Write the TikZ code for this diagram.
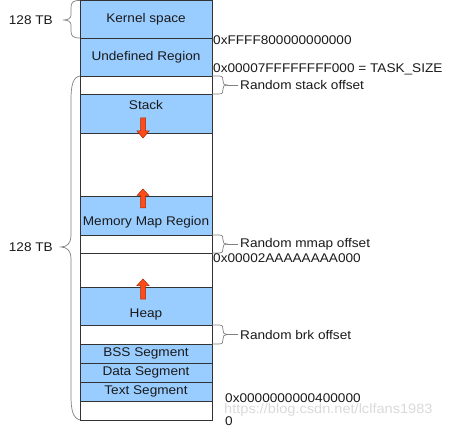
\documentclass[tikz,border=0pt]{standalone}
\usepackage{fontspec}
\setmainfont[FakeStretch=1.08]{Liberation Sans}
\definecolor{memblue}{HTML}{99CCFF}
\definecolor{linec}{HTML}{333333}
\definecolor{arrfill}{HTML}{FF4A1A}
\definecolor{arrline}{HTML}{A82800}
\definecolor{bracec}{HTML}{808080}
\definecolor{wmark}{HTML}{DADADA}
\definecolor{txt}{HTML}{1A1A1A}
\begin{document}
\begin{tikzpicture}[x=1bp,y=-1bp, font=\fontsize{12.6bp}{15bp}\selectfont,
 region/.style={draw=linec, line width=0.9bp, minimum width=132bp, inner sep=0pt, outer sep=0pt, anchor=north west, fill=white, text=txt},
 bluereg/.style={region, fill=memblue},
 lbl/.style={inner sep=0pt, text=txt},
 addr/.style={inner sep=0pt, anchor=west, text=txt},
 brace/.style={draw=bracec, line width=0.7bp},
 growarrow/.style={fill=arrfill, draw=arrline, line width=0.5bp, line join=miter}]
\useasboundingbox (0,0) rectangle (458,433);
\fill[white] (0,0) rectangle (458,433);
% memory regions
\node[bluereg, minimum height=37.5bp] (kernel) at (80,0.5) {Kernel space};
\node[bluereg, minimum height=38bp] (undef) at (kernel.south west) {Undefined Region};
\node[region, minimum height=18bp] (gap1) at (undef.south west) {};
\node[bluereg, minimum height=39bp] (stack) at (gap1.south west) {};
\node[region, minimum height=63bp] (free1) at (stack.south west) {};
\node[bluereg, minimum height=39bp] (mmap) at (free1.south west) {};
\node[region, minimum height=18bp] (gap2) at (mmap.south west) {};
\node[region, minimum height=34bp] (free2) at (gap2.south west) {};
\node[bluereg, minimum height=38bp] (heap) at (free2.south west) {};
\node[region, minimum height=19bp] (gap3) at (heap.south west) {};
\node[bluereg, minimum height=19bp] (bss) at (gap3.south west) {BSS Segment};
\node[bluereg, minimum height=19bp] (data) at (bss.south west) {Data Segment};
\node[bluereg, minimum height=19bp] (textseg) at (data.south west) {Text Segment};
\node[region, minimum height=19bp] (bottom) at (textseg.south west) {};
% region labels placed off-centre
\node[lbl] (stackT) at (146,105) {Stack};
\node[lbl] (mmapT) at (146,222) {Memory Map Region};
\node[lbl] (heapT) at (146,314) {Heap};
% growth arrows
\draw[growarrow] (140.5,118) -- (145.5,118) -- (145.5,131) -- (149,131) -- (143,138) -- (137,131) -- (140.5,131) -- cycle;
\draw[growarrow] (143,189) -- (149,195.5) -- (145.5,195.5) -- (145.5,208) -- (140.5,208) -- (140.5,195.5) -- (137,195.5) -- cycle;
\draw[growarrow] (143,279) -- (149,285.5) -- (145.5,285.5) -- (145.5,299) -- (140.5,299) -- (140.5,285.5) -- (137,285.5) -- cycle;
% left braces
\draw[brace] (kernel.north west) .. controls (73,0.5) and (71,2) .. (71,8) -- (71,15) .. controls (71,18.5) and (68,20) .. (63,20)
  .. controls (68,20) and (71,21.5) .. (71,25) -- (71,31) .. controls (71,36) and (73,38) .. (kernel.south west);
\node[lbl, anchor=east] (tb1) at (53,20) {128 TB};
\draw[brace] (gap1.north west) .. controls (73,77) and (71,85) .. (71,100) -- (71,236) .. controls (71,243) and (67,247) .. (61,247)
  .. controls (67,247) and (71,251) .. (71,258) -- (71,395) .. controls (71,411) and (73,418) .. (bottom.south west);
\node[lbl, anchor=east] (tb2) at (53,247) {128 TB};
% right braces
\draw[brace] (gap1.north east) -- (219,76) .. controls (223,76) and (223,78) .. (223,81) .. controls (223,84) and (224,85) .. (227,85)
  .. controls (224,85) and (223,86) .. (223,89) .. controls (223,92) and (223,94) .. (219,94) -- (gap1.south east);
\node[addr] (stackoff) at (240,85) {Random stack offset};
\draw[brace] (227,85) -- ([xshift=-2bp]stackoff.west);
\draw[brace] (gap2.north east) -- (219,235) .. controls (223,235) and (223,237) .. (223,240) .. controls (223,243) and (224,244) .. (227,244)
  .. controls (224,244) and (223,245) .. (223,248) .. controls (223,251) and (223,253) .. (219,253) -- (gap2.south east);
\node[addr] (mmapoff) at (240,244) {Random mmap offset};
\draw[brace] (227,244) -- ([xshift=-2bp]mmapoff.west);
\draw[brace] (gap3.north east) -- (219,325) .. controls (223,325) and (223,327) .. (223,330) .. controls (223,333) and (224,334.5) .. (227,334.5)
  .. controls (224,334.5) and (223,336) .. (223,339) .. controls (223,342) and (223,344) .. (219,344) -- (gap3.south east);
\node[addr] (brkoff) at (240,334.5) {Random brk offset};
\draw[brace] (227,334.5) -- ([xshift=-2bp]brkoff.west);
% addresses
\node[addr] (a1) at (213,40) {0xFFFF800000000000};
\node[addr] (a2) at (213,69) {0x00007FFFFFFFF000 = TASK\_SIZE};
\node[addr] (a3) at (213,258) {0x00002AAAAAAAA000};
\node[addr, text=wmark, font=\fontsize{13.5bp}{16bp}\selectfont] (wm) at (224,410) {https://blog.csdn.net/lclfans1983};
\node[addr] (a4) at (225,398) {0x0000000000400000};
\node[addr] (a5) at (225,421) {0};
\end{tikzpicture}
\end{document}
